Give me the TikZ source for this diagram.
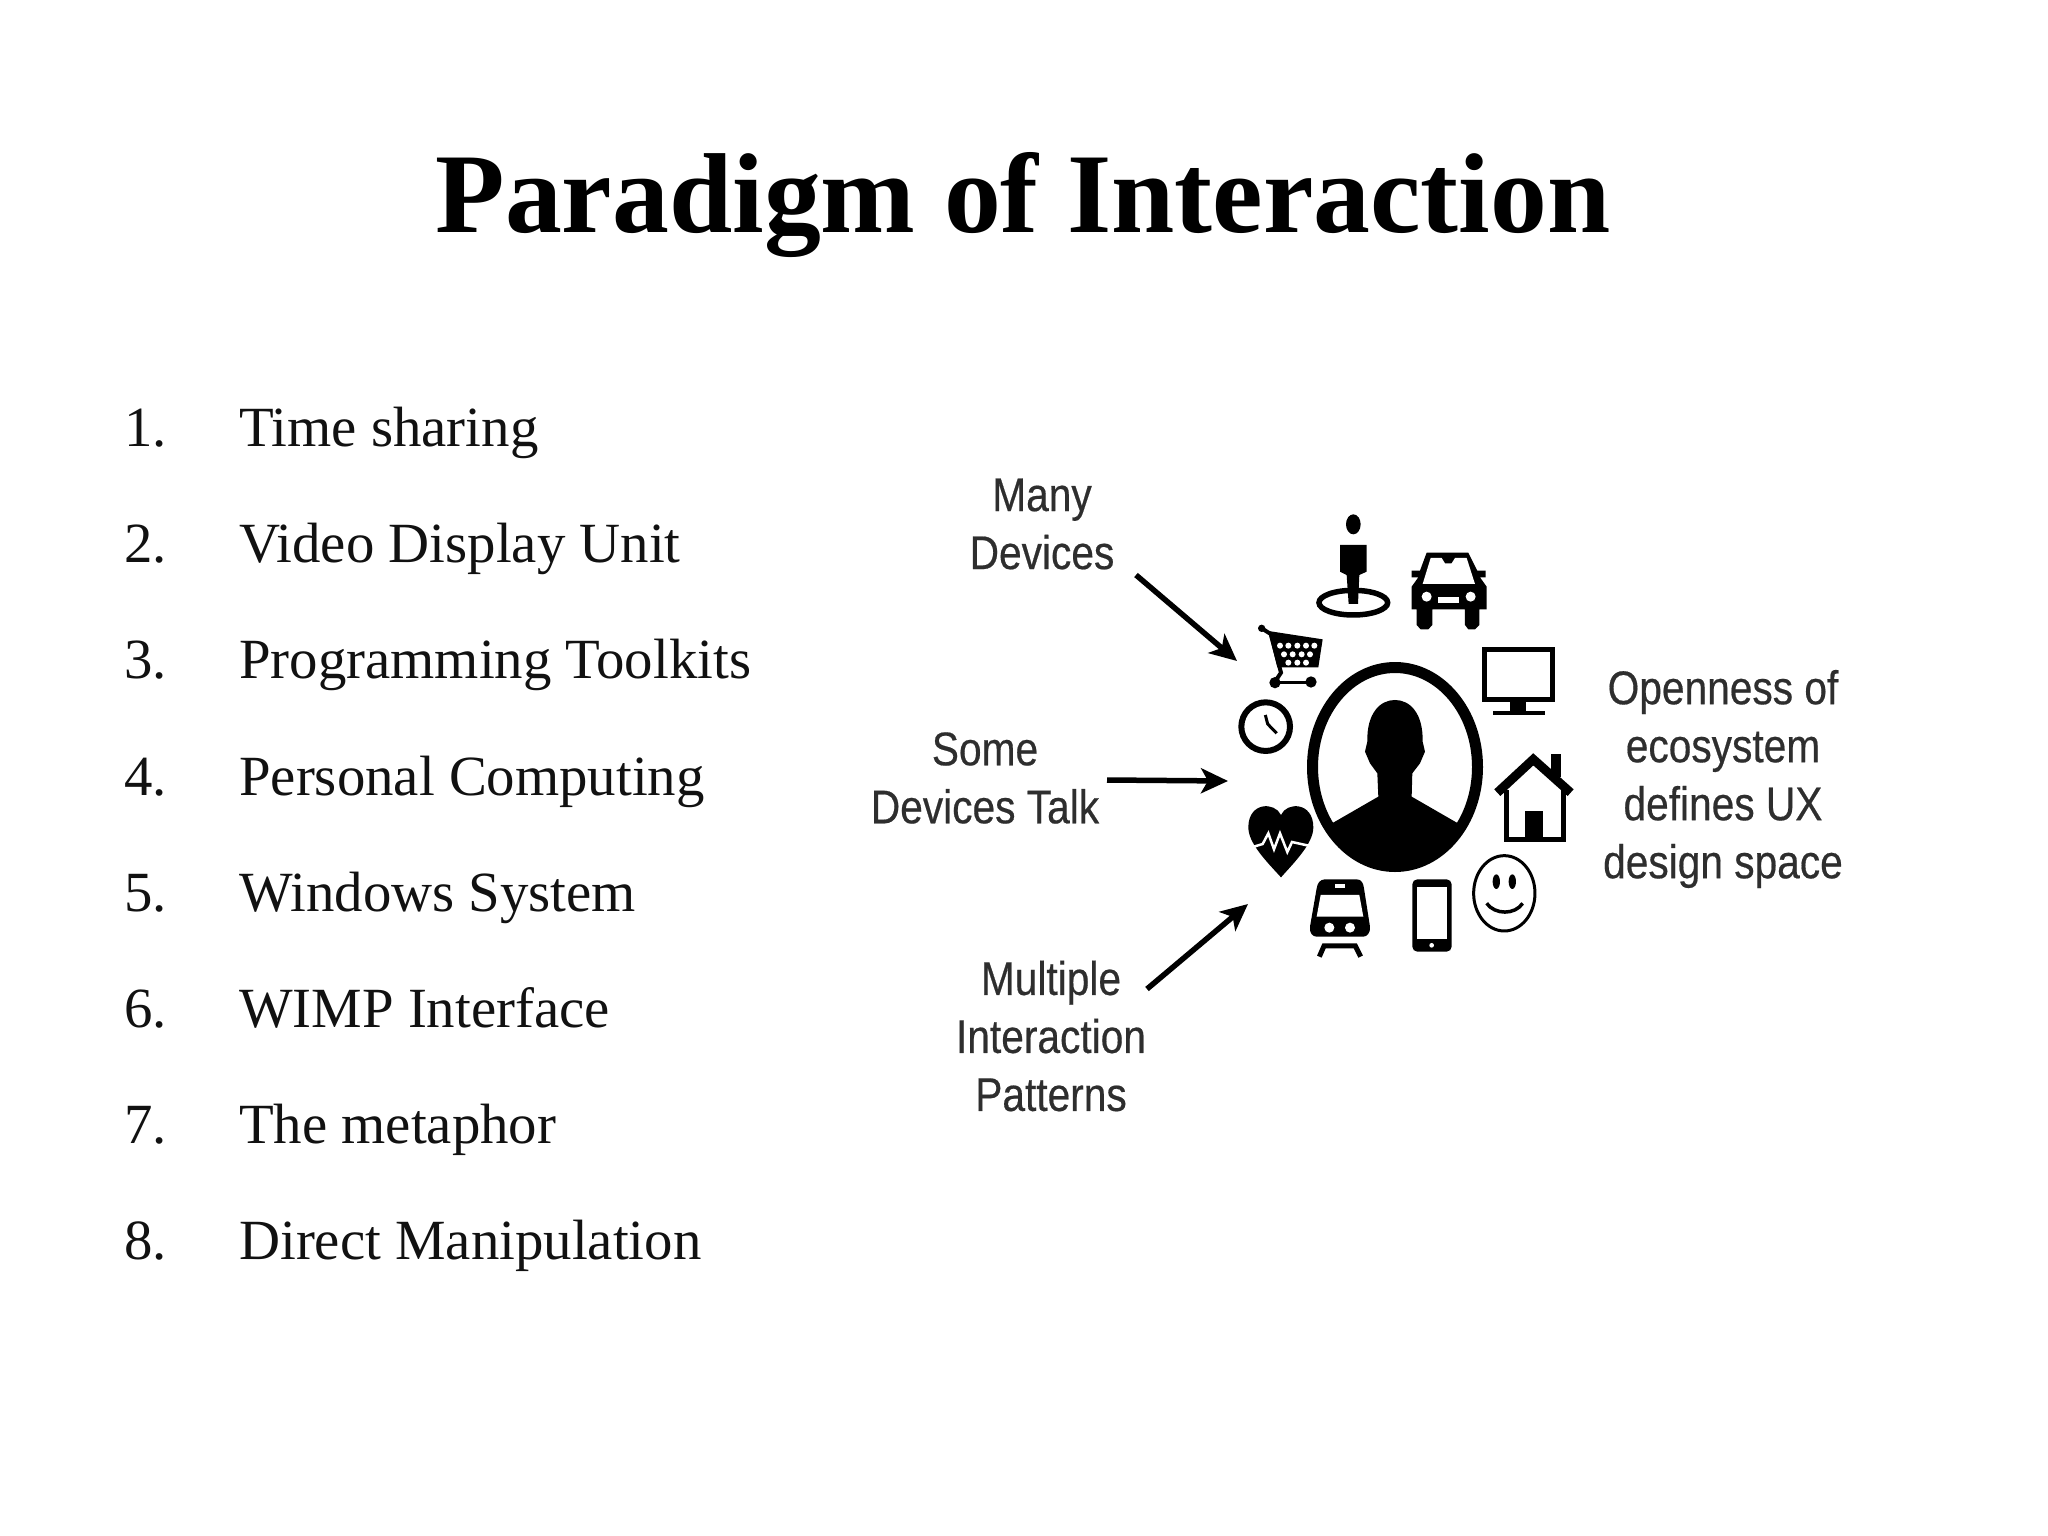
\documentclass[tikz,border=0pt]{standalone}
\usepackage{fontspec}
\setmainfont{Liberation Serif}
\newfontfamily\lab[FakeStretch=0.86,FakeBold=0.4]{Liberation Sans}
\usetikzlibrary{arrows.meta}
\definecolor{labgray}{HTML}{2E2E2E}
\definecolor{listink}{HTML}{111111}
\tikzset{
  itemnum/.style={anchor=base west,inner sep=0pt,text=listink,font=\fontsize{56.8}{58}\selectfont},
  itemtext/.style={anchor=base west,inner sep=0pt,text=listink,font=\fontsize{56.8}{58}\selectfont},
  lbl/.style={align=center,inner sep=0pt,text=labgray,font=\lab\fontsize{47.3}{58}\selectfont},
  arr/.style={line width=5.5pt,-{Stealth[length=27pt,width=25pt,inset=7pt]},black},
  blk/.style={fill=black,draw=none}
}
\begin{document}
\begin{tikzpicture}[x=1pt,y=-1pt]
\useasboundingbox (0,0) rectangle (2048,1536);
\fill[white] (0,0) rectangle (2048,1536);
\node[inner sep=0pt,font=\bfseries\fontsize{113.7}{114}\selectfont] (title) at (1023,205) {Paradigm of Interaction};
\foreach \n/\t [count=\i] in {1./Time sharing,2./Video Display Unit,3./Programming Toolkits,4./Personal Computing,5./Windows System,6./WIMP Interface,7./The metaphor,8./Direct Manipulation}{
  \node[itemnum] (num\i) at (124,{446.5+116.2*(\i-1)}) {\n};
  \node[itemtext] (item\i) at (239,{446.5+116.2*(\i-1)}) {\t};
}
\node[lbl] (many) at (1042,524) {Many\\Devices};
\node[lbl] (some) at (985,778) {Some\\Devices Talk};
\node[lbl] (multi) at (1051,1036) {Multiple\\Interaction\\Patterns};
\node[lbl] (open) at (1723,779) {Openness of\\ecosystem\\defines UX\\design space};
\coordinate (a1s) at (1136,575); \coordinate (a1e) at (1237,661);
\coordinate (a2s) at (1107,780); \coordinate (a2e) at (1228,781);
\coordinate (a3s) at (1147,989); \coordinate (a3e) at (1248,904);
\draw[arr] (a1s) -- (a1e);
\draw[arr] (a2s) -- (a2e);
\draw[arr] (a3s) -- (a3e);
% portrait
\begin{scope}
\clip (1395,767) ellipse [x radius=84,y radius=101];
\begin{scope}[shift={(1200,480)},x=0.3333pt,y=-0.3333pt]
\fill[black] (340,1200) -- (340,1060) -- (405,1025) -- (535,950) -- (532,880) -- (510,850) -- (495,815) -- (502,785)
  .. controls (500,700) and (540,660) .. (585,660) .. controls (630,660) and (670,700) .. (668,785)
  -- (675,815) -- (660,850) -- (637,880) -- (635,950) -- (765,1025) -- (830,1060) -- (830,1200) -- cycle;
\end{scope}
\end{scope}
\draw[line width=11pt,black] (1395,767) ellipse [x radius=82.5,y radius=99.5];
\begin{scope}[shift={(1200,480)},x=0.3333pt,y=-0.3333pt]
% person on ring
\fill[black] (460,133) ellipse [x radius=22,y radius=30];
\fill[black] (420,195) -- (500,195) -- (500,275) -- (478,285) -- (474,372) -- (446,372) -- (440,285) -- (420,275) -- cycle;
\draw[line width=5.5pt,black] (460,368) ellipse [x radius=103,y radius=37];
% car
\fill[black] (680,218) -- (805,218) -- (832,272) -- (857,272) -- (857,292) -- (840,292) -- (860,320) -- (860,388) -- (838,388) -- (838,435) -- (825,448) -- (805,448) -- (795,435) -- (795,388) -- (697,388) -- (697,435) -- (685,448) -- (662,448) -- (650,435) -- (650,388) -- (635,388) -- (635,320) -- (655,292) -- (635,292) -- (635,272) -- (660,272) -- cycle;
\fill[white] (692,234) -- (725,234) -- (735,250) -- (755,250) -- (765,234) -- (800,234) -- (825,312) -- (668,312) -- cycle;
\fill[white] (680,350) circle [radius=15];
\fill[white] (812,350) circle [radius=15];
\fill[white] (715,350) rectangle (778,370);
% cart
\fill[black] (205,453) -- (368,478) -- (355,562) -- (232,562) -- cycle;
\draw[line width=4pt,black] (185,445) -- (212,462) -- (243,578) -- (225,605);
\fill[black] (185,445) circle [radius=11];
\fill[black] (225,608) circle [radius=17];
\fill[black] (333,606) circle [radius=17];
\draw[line width=2.5pt,black] (225,607) -- (333,607);
\foreach \x in {240,265,292,318,343} \fill[white] (\x,497) circle [radius=9];
\foreach \x in {252,278,305,330} \fill[white] (\x,523) circle [radius=9];
\foreach \x in {265,292,318} \fill[white] (\x,548) circle [radius=9];
% clock
\draw[line width=6pt,black] (197,740) circle [radius=73];
\draw[line width=3pt,black] (196,705) -- (203,732) -- (230,760);
% monitor
\draw[line width=5pt,black] (855,510) rectangle (1058,660);
\fill[black] (930,660) rectangle (978,696);
\fill[black] (878,694) rectangle (1035,706);
\end{scope}
\begin{scope}[shift={(1200,740)},x=0.3333pt,y=-0.3333pt]
% home
\fill[black] (1052,42) rectangle (1082,110);
\draw[line width=9pt,black] (892,158) -- (1000,58) -- (1112,158);
\draw[line width=5pt,black] (920,150) -- (920,300) -- (1090,300) -- (1090,150);
\fill[black] (975,212) rectangle (1030,298);
% heart
\fill[black] (243,225) .. controls (225,185) and (145,185) .. (145,262) .. controls (145,310) and (200,365) .. (243,412)
  .. controls (285,365) and (340,310) .. (340,262) .. controls (340,185) and (260,185) .. (243,225) -- cycle;
\draw[line width=2.5pt,white] (155,322) -- (188,312) -- (205,280) -- (222,328) -- (240,280) -- (262,336) -- (276,306) -- (330,318);
% train
\fill[black] (375,418) -- (470,418) .. controls (485,418) and (490,430) .. (492,445) -- (510,560) .. controls (512,580) and (500,590) .. (490,590) -- (350,590) .. controls (338,590) and (328,580) .. (330,560) -- (350,445) .. controls (352,430) and (360,418) .. (375,418) -- cycle;
\fill[white] (362,465) -- (478,465) -- (490,530) -- (350,530) -- cycle;
\fill[white] (405,431) rectangle (436,445);
\fill[white] (388,563) circle [radius=15];
\fill[white] (450,563) circle [radius=15];
\draw[line width=5pt,black] (358,650) -- (372,618) -- (466,618) -- (482,650);
% phone
\fill[black,rounded corners=5pt] (637,418) rectangle (755,635);
\fill[white] (650,440) rectangle (742,597);
\fill[white] (695,616) circle [radius=7];
% smiley
\draw[line width=3pt,black] (913,460) ellipse [x radius=92,y radius=113];
\fill[black] (889,425) ellipse [x radius=11,y radius=22];
\fill[black] (937,425) ellipse [x radius=11,y radius=22];
\draw[line width=3.5pt,black] (860,490) .. controls (885,525) and (945,525) .. (968,490);
\end{scope}
\end{tikzpicture}
\end{document}
